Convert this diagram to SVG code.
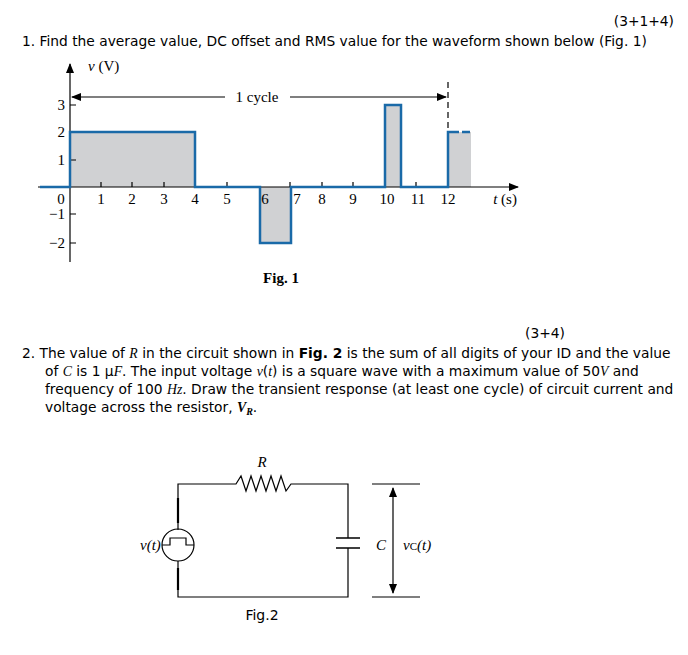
<svg xmlns="http://www.w3.org/2000/svg" width="688" height="655" viewBox="0 0 688 655">
<defs>
<marker id="ah" markerWidth="10" markerHeight="8" refX="9" refY="4" orient="auto-start-reverse" markerUnits="userSpaceOnUse"><path d="M0,0 L10,4 L0,8 z" fill="#000"/></marker>
</defs>
<style>
.t{font-family:"DejaVu Sans",sans-serif;font-size:13.8px;fill:#000}
.s{font-family:"Liberation Serif",serif;font-size:15px;fill:#000}
.w{fill:none;stroke:#000;stroke-width:1.2}
.wave{fill:none;stroke:#1a6aa8;stroke-width:2.5}
.sh{fill:#d0d1d3}
</style>
<rect width="688" height="655" fill="#fff"/>
<text class="t" x="674" y="26" text-anchor="end">(3+1+4)</text>
<text class="t" x="22" y="46">1.  Find the average value, DC offset and RMS value for the waveform shown below (Fig. 1)</text>
<g id="fig1">
<rect class="sh" x="70" y="132" width="125" height="55"/>
<rect class="sh" x="260" y="187" width="31" height="56"/>
<rect class="sh" x="385" y="105" width="16" height="82"/>
<rect class="sh" x="448" y="132" width="23" height="55"/>
<line class="w" x1="70" y1="262" x2="70" y2="64" marker-end="url(#ah)"/>
<line class="w" x1="38" y1="187" x2="518" y2="187" marker-end="url(#ah)"/>
<g class="w">
<path d="M101,182v5M132,182v5M164,182v5M227,182v5M290,182v5M322,182v5M353,182v5M416,182v5M70,105h6M70,132h6M70,160h6M70,214h6M70,243h6"/>
</g>
<path class="wave" d="M40,187H70V132H195V187H260V243H291V187H385V105H401V187H448V132H459M462,132H470"/>
<line x1="448" y1="82" x2="448" y2="130" stroke="#000" stroke-width="1.2" stroke-dasharray="6,4"/>
<line class="w" x1="72" y1="97" x2="225" y2="97" marker-start="url(#ah)"/>
<line class="w" x1="290" y1="97" x2="446" y2="97" marker-end="url(#ah)"/>
<text class="s" x="257" y="102" text-anchor="middle">1 cycle</text>
<text class="s" x="88" y="71"><tspan font-style="italic">v</tspan> (V)</text>
<g class="s" text-anchor="end">
<text x="65" y="110">3</text><text x="65" y="137">2</text><text x="65" y="165">1</text><text x="65" y="219">−1</text><text x="65" y="248">−2</text>
</g>
<g class="s" text-anchor="middle">
<text x="61" y="204">0</text><text x="101" y="204">1</text><text x="132" y="204">2</text><text x="164" y="204">3</text><text x="195" y="204">4</text><text x="227" y="204">5</text><text x="265" y="204">6</text><text x="297" y="204">7</text><text x="322" y="204">8</text><text x="353" y="204">9</text><text x="387" y="204">10</text><text x="418" y="204">11</text><text x="448" y="204">12</text>
<text x="505" y="204"><tspan font-style="italic">t</tspan> (s)</text>
<text x="281" y="283" font-weight="bold">Fig. 1</text>
</g>
</g>
<text class="t" x="545" y="338" text-anchor="middle">(3+4)</text>
<text class="t" x="22" y="358">2.  The value of <tspan font-style="italic" font-family="Liberation Serif">R</tspan> in the circuit shown in <tspan font-weight="bold">Fig. 2</tspan> is the sum of all digits of your ID and the value</text>
<text class="t" x="45" y="376">of <tspan font-style="italic" font-family="Liberation Serif">C</tspan> is 1 μ<tspan font-style="italic" font-family="Liberation Serif">F</tspan>. The input voltage <tspan font-style="italic" font-family="Liberation Serif">v</tspan>(<tspan font-style="italic" font-family="Liberation Serif">t</tspan>) is a square wave with a maximum value of 50<tspan font-style="italic" font-family="Liberation Serif">V</tspan> and</text>
<text class="t" x="45" y="394">frequency of 100 <tspan font-style="italic" font-family="Liberation Serif">Hz</tspan>. Draw the transient response (at least one cycle) of circuit current and</text>
<text class="t" x="45" y="412">voltage across the resistor, <tspan font-weight="bold" font-style="italic" font-family="Liberation Serif">V<tspan font-size="10" dy="3">R</tspan></tspan><tspan dy="-3">.</tspan></text>
<g id="fig2">
<path class="w" d="M178,530V484H220M310,484H348V538M348,548V597H178V561"/>
<path class="w" d="M220,484H236L241,476L246,491L251,476L256,491L261,476L266,491L271,476L276,491L281,476L286,491L291,484H310"/>
<path d="M178,498V523M178,568V590" stroke="#000" stroke-width="2.2"/>
<circle class="w" cx="178" cy="545" r="16"/>
<path class="w" d="M162,545H170V538H186V545H194"/>
<path d="M336,538H360M336,548H360" stroke="#000" stroke-width="1.6"/>
<path class="w" d="M372,484H420M372,597H420"/>
<line class="w" x1="393" y1="488" x2="393" y2="593" marker-start="url(#ah)" marker-end="url(#ah)"/>
<text class="s" x="262" y="467" text-anchor="middle" font-style="italic">R</text>
<text class="s" x="376" y="550" font-style="italic">C</text>
<text class="s" x="403" y="550" font-style="italic">v<tspan font-style="normal" font-size="11">C</tspan>(t)</text>
<text class="s" x="140" y="550" font-style="italic">v(t)</text>
<text x="262" y="620" text-anchor="middle" font-family="'DejaVu Sans',sans-serif" font-size="14">Fig.2</text>
</g>
</svg>
